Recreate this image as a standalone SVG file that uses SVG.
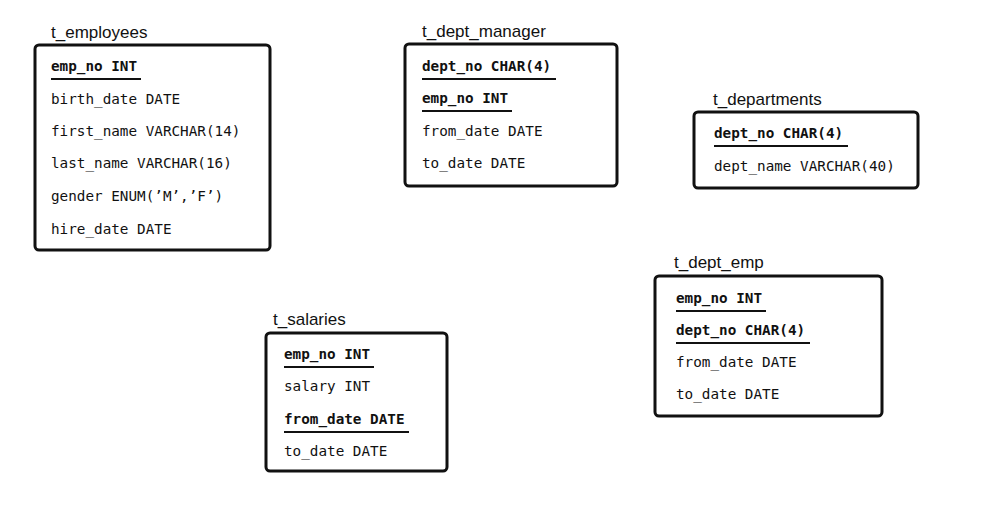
<svg xmlns="http://www.w3.org/2000/svg" width="981" height="507" viewBox="0 0 981 507">
<style>
.box{fill:#fff;stroke:#111;stroke-width:3;}
.t{font-family:"Liberation Sans",Arial,sans-serif;font-size:17px;fill:#111;}
.f{font-family:"DejaVu Sans Mono",monospace;font-size:14.3px;fill:#111;}
.k{font-weight:bold;}
.u{stroke:#111;stroke-width:2;}
</style>
<rect width="981" height="507" fill="#fff"/>
<g id="t_employees">
<text class="t" x="51" y="38">t_employees</text>
<rect class="box" x="35" y="45" width="235" height="205" rx="4"/>
<text class="f k" x="51" y="71">emp_no INT</text><line class="u" x1="51" y1="79" x2="141" y2="79"/>
<text class="f" x="51" y="104">birth_date DATE</text>
<text class="f" x="51" y="136">first_name VARCHAR(14)</text>
<text class="f" x="51" y="168">last_name VARCHAR(16)</text>
<text class="f" x="51" y="201">gender ENUM(’M’,’F’)</text>
<text class="f" x="51" y="234">hire_date DATE</text>
</g>
<g id="t_dept_manager">
<text class="t" x="422" y="37">t_dept_manager</text>
<rect class="box" x="405" y="44" width="212" height="142" rx="4"/>
<text class="f k" x="422" y="71">dept_no CHAR(4)</text><line class="u" x1="422" y1="79" x2="556" y2="79"/>
<text class="f k" x="422" y="103">emp_no INT</text><line class="u" x1="422" y1="111" x2="512" y2="111"/>
<text class="f" x="422" y="136">from_date DATE</text>
<text class="f" x="422" y="168">to_date DATE</text>
</g>
<g id="t_departments">
<text class="t" x="713" y="105">t_departments</text>
<rect class="box" x="694" y="112" width="224" height="76" rx="4"/>
<text class="f k" x="714" y="138">dept_no CHAR(4)</text><line class="u" x1="714" y1="146" x2="848" y2="146"/>
<text class="f" x="714" y="171">dept_name VARCHAR(40)</text>
</g>
<g id="t_dept_emp">
<text class="t" x="674" y="268">t_dept_emp</text>
<rect class="box" x="655" y="276" width="227" height="140" rx="4"/>
<text class="f k" x="676" y="303">emp_no INT</text><line class="u" x1="676" y1="311" x2="766" y2="311"/>
<text class="f k" x="676" y="335">dept_no CHAR(4)</text><line class="u" x1="676" y1="343" x2="810" y2="343"/>
<text class="f" x="676" y="367">from_date DATE</text>
<text class="f" x="676" y="399">to_date DATE</text>
</g>
<g id="t_salaries">
<text class="t" x="273" y="325">t_salaries</text>
<rect class="box" x="266" y="333" width="181" height="138" rx="4"/>
<text class="f k" x="284" y="359">emp_no INT</text><line class="u" x1="284" y1="367" x2="374" y2="367"/>
<text class="f" x="284" y="391">salary INT</text>
<text class="f k" x="284" y="424">from_date DATE</text><line class="u" x1="284" y1="432" x2="409" y2="432"/>
<text class="f" x="284" y="456">to_date DATE</text>
</g>
<g id="connectors"></g>
</svg>
